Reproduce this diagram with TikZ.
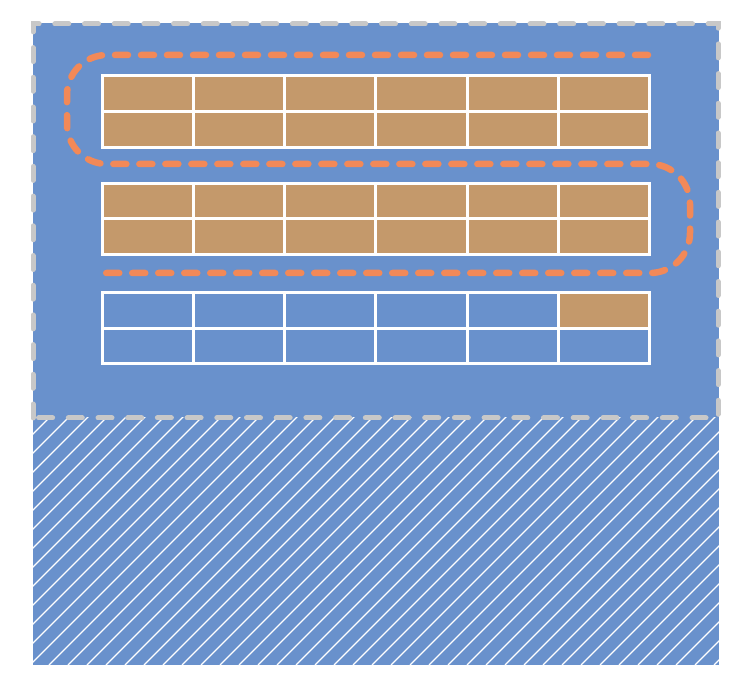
\documentclass[tikz,border=0pt]{standalone}
\usepackage{xcolor}
\usepackage{tikz}
\usetikzlibrary{positioning}
\definecolor{bgblue}{RGB}{105,145,204}
\definecolor{cellbrown}{RGB}{196,153,107}
\definecolor{snakeorange}{RGB}{242,137,88}
\definecolor{bordergray}{RGB}{200,200,200}
\newcommand{\cellw}{91.33}

\begin{document}
\begin{tikzpicture}[
      % GLOBAL CFG
      x=1pt, y=-1pt,
      % Styles
      cell/.style={% For one slot of a block
        rectangle,
        draw=white,
        line width=3pt,
        minimum width=\cellw pt,
        minimum height=36pt,
        inner sep=0pt,
        outer sep=0pt
      },
      used/.style={% Filled slot
        cell,
        fill=cellbrown
      },
      free/.style={% Empty slot
        cell,
        fill=bgblue
      },
      snake/.style={% Dashed path over the slots
        draw=snakeorange,
        line width=6.5pt,
        line cap=round,
        dash pattern=on 13pt off 13pt,
        rounded corners=40pt
      },
      frame/.style={% Dashed border of the region
        draw=bordergray,
        line width=5pt,
        line cap=round,
        dash pattern=on 14pt off 15.7pt
      },
      hatch/.style={% Lines of the hatched region
        draw=white,
        line width=1.3pt
      }
      ]
      \useasboundingbox (0,0) rectangle (750,684);

      % Draw the background:
      \fill [bgblue] (33,23) rectangle (719,665);

      % Hatched part below:
      \begin{scope}
        \clip (33,418) rectangle (719,665);
        \foreach \i in {0,...,50} {
          \draw [hatch] ({33+19*\i-250},665) -- ({33+19*\i},415);
        }
      \end{scope}

      % The blocks:
      \foreach \c in {1,...,6} {
        \node [used] (blockA-\c-1) at ({102+\cellw*(\c-0.5)}, 94) {};
        \node [used] (blockA-\c-2) at ({102+\cellw*(\c-0.5)}, 129.5) {};
        \node [used] (blockB-\c-1) at ({102+\cellw*(\c-0.5)}, 201.5) {};
        \node [used] (blockB-\c-2) at ({102+\cellw*(\c-0.5)}, 237) {};
        \node [free] (blockC-\c-2) at ({102+\cellw*(\c-0.5)}, 345.5) {};
      }
      \foreach \c in {1,...,5} {
        \node [free] (blockC-\c-1) at ({102+\cellw*(\c-0.5)}, 310.5) {};
      }
      \node [used] (blockC-6-1) at ({102+\cellw*5.5}, 310.5) {};

      % The dashed path:
      \coordinate (start) at (648,55);
      \coordinate (end) at (102,273);
      \draw [snake] (start) -- (67,55) -- (67,164) -- (690,164) -- (690,273) -- (end);

      % Border of the upper part:
      \draw [frame] (33,418) -- (33,24) -- (718,24) -- (718,418) -- cycle;
    \end{tikzpicture}
\end{document}
